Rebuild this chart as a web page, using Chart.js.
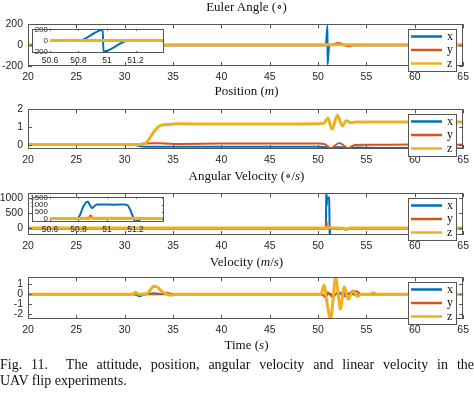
<!DOCTYPE html>
<html>
<head>
<meta charset="utf-8">
<script src="https://cdn.jsdelivr.net/npm/chart.js@4.4.1/dist/chart.umd.min.js"></script>
<style>
  html, body { margin: 0; padding: 0; background: #fff; }
  #fig { position: relative; width: 474px; height: 395px; overflow: hidden; font-family: 'Liberation Serif', 'DejaVu Serif', serif; color: #111; }
  #fig canvas { position: absolute; }
  .ttl { position: absolute; left: 28px; width: 437px; text-align: center; font-size: 13px; line-height: 14px; white-space: nowrap; z-index: 5; }
  .cap { position: absolute; left: 0; width: 474px; font-size: 14px; line-height: 16px; white-space: nowrap; z-index: 5; }
</style>
</head>
<body>
<div id="fig">
  <div class="ttl" style="top:0px;">Euler Angle (∘)</div>
  <div class="ttl" style="top:84px;">Position (<i>m</i>)</div>
  <div class="ttl" style="top:169px;">Angular Velocity (∘/<i>s</i>)</div>
  <div class="ttl" style="top:255px;">Velocity (<i>m</i>/<i>s</i>)</div>
  <div class="ttl" style="top:338px;">Time (<i>s</i>)</div>
  <div class="cap" style="top:357px; text-align:justify; text-align-last:justify;">Fig. 11.&nbsp;&nbsp;The attitude, position, angular velocity and linear velocity in the</div>
  <div class="cap" style="top:373px;">UAV flip experiments.</div>
</div>
<script>
const BLUE = '#0072BD', RED = '#D95319', YELLOW = '#EDB120';

// ── ticks ──
const timeTicks = [20, 25, 30, 35, 40, 45, 50, 55, 60, 65];
const zoomTicks = [50.6, 50.8, 51, 51.2];
const eulerTicks = [-200, 0, 200];
const posTicks = [0, 1, 2];
const angTicks = [0, 500, 1000];
const angZoomTicks = [0, 500, 1000, 1500];
const velTicks = [-2, -1, 0, 1];

// ── Euler angle (deg) ──
const eulerXT = [20, 31, 33, 50.8, 50.97, 50.975, 51.15, 51.5, 53, 65];
const eulerX  = [0, 0, 0, 0, 188, -188, 0, 2, 0, 0];
const eulerYT = [20, 51.2, 51.6, 52.1, 52.6, 53.1, 53.6, 65];
const eulerY  = [0, 0, 10, 20, 8, -12, 0, 0];
const eulerZT = [20, 50.9, 51.0, 51.1, 65];
const eulerZ  = [3, 3, 6, 3, 3];

// ── Position (m) ──
const posXT = [20, 31, 31.5, 32.5, 34, 40, 50, 50.8, 51.3, 51.8, 52.5, 53.1, 53.6, 55, 60, 65];
const posX  = [0.02, 0.02, -0.03, -0.08, -0.07, -0.07, -0.08, -0.1, -0.2, -0.1, -0.1, -0.16, -0.11, -0.13, -0.15, -0.17];
const posYT = [20, 31, 32, 33, 34, 36, 40, 50, 50.7, 51.3, 52.2, 53.1, 53.8, 55, 60, 65];
const posY  = [0.03, 0.03, 0.1, 0.12, 0.11, 0.08, 0.1, 0.1, 0.06, -0.15, 0.13, -0.14, 0.02, 0.03, 0.05, 0.04];
const posZT = [20, 31.7, 32.2, 32.6, 33, 33.4, 33.8, 34.5, 35.5, 40, 45, 50, 50.6, 51.0, 51.45, 52.0, 52.5, 52.9, 53.4, 54, 55, 60, 65];
const posZ  = [0.05, 0.05, 0.15, 0.4, 0.75, 1.0, 1.12, 1.16, 1.2, 1.18, 1.18, 1.2, 1.22, 1.52, 0.9, 1.67, 1.08, 1.36, 1.25, 1.3, 1.3, 1.3, 1.3];

// ── Angular velocity (deg/s) ──
const angXT = [20, 50.79, 50.81, 50.83, 50.85, 50.865, 50.88, 50.895, 50.91, 50.93, 50.97, 51.05, 51.12, 51.145, 51.165, 51.185, 51.2, 51.22, 51.25, 52.4, 52.9, 53.4, 65];
const angX  = [0, 0, 250, 800, 1150, 1230, 1000, 760, 900, 1030, 1040, 1020, 1040, 980, 600, 50, -230, -150, 0, 0, -40, 0, 0];
const angYT = [20, 50.87, 50.885, 50.9, 52.3, 52.9, 53.5, 65];
const angY  = [0, 0, 230, 0, 0, -30, 0, 0];
const angZT = [20, 50.8, 50.88, 50.95, 51.15, 51.25, 52.4, 52.9, 53.4, 65];
const angZ  = [15, 15, 40, 20, 30, 15, 15, -20, 15, 15];

// ── Velocity (m/s) ──
const velXT = [20, 31, 31.5, 32, 33, 34, 35, 50.4, 50.7, 51.1, 51.6, 52.2, 52.8, 53.3, 53.8, 54.5, 65];
const velX  = [0, 0, -0.2, -0.05, 0.1, 0, 0, 0, -0.25, 0.05, -0.1, 0.15, 0, 0.1, -0.05, 0, 0];
const velYT = [20, 33.5, 34.3, 35, 50.4, 50.7, 51.0, 51.5, 52.0, 52.8, 53.4, 54.0, 54.4, 65];
const velY  = [0, 0, 0.15, 0, 0, -0.25, 0.2, -0.3, 0.15, -0.2, 0.2, 0.3, 0, 0];
const velZT = [20, 30.8, 31.1, 31.4, 32.3, 32.7, 33.0, 33.4, 33.8, 34.3, 34.8, 35.3, 50.3, 50.6, 50.95, 51.3, 51.55, 51.8, 52.05, 52.3, 52.7, 53.1, 53.6, 54.05, 54.5, 55.3, 55.7, 56.1, 65];
const velZ  = [0, 0, 0.2, 0, 0.05, 0.5, 0.8, 0.7, 0.3, 0, -0.1, 0, 0, 0.9, -1.0, -2.6, -0.5, 1.75, 0.3, -1.5, 0.75, -0.5, 0.35, -0.2, 0, 0, 0.15, 0, 0];

const TICK_COLOR = '#262626';
const FRAME_COLOR = '#555';
const INSET_LABEL_W = 22;   // room for inset y labels
const INSET_BOX_PAD = 4;    // white box starts this far into the inset canvas

// white box + border + inward tick marks (MATLAB style)
const framePlugin = {
  id: 'frame',
  beforeDraw(chart, args, o) {
    if (!o.inset) return;
    const a = chart.chartArea, ctx = chart.ctx;
    ctx.save();
    ctx.fillStyle = '#fff';
    ctx.fillRect(INSET_BOX_PAD, a.top, a.right - INSET_BOX_PAD, a.bottom - a.top);
    ctx.restore();
  },
  afterDatasetsDraw(chart, args, o) {
    const { ctx, chartArea: a, scales: { x, y } } = chart;
    const left = o.inset ? INSET_BOX_PAD : a.left;
    const L = o.len || 4;
    ctx.save();
    ctx.strokeStyle = FRAME_COLOR;
    ctx.lineWidth = 1;
    ctx.beginPath();
    x.ticks.forEach((t) => {
      const p = Math.round(x.getPixelForValue(t.value)) + 0.5;
      ctx.moveTo(p, a.bottom); ctx.lineTo(p, a.bottom - L);
      ctx.moveTo(p, a.top); ctx.lineTo(p, a.top + L);
    });
    y.ticks.forEach((t) => {
      const p = Math.round(y.getPixelForValue(t.value)) + 0.5;
      if (!o.inset) { ctx.moveTo(a.left, p); ctx.lineTo(a.left + L, p); }
      ctx.moveTo(a.right, p); ctx.lineTo(a.right - L, p);
    });
    ctx.stroke();
    ctx.strokeRect(Math.round(left) + 0.5, Math.round(a.top) + 0.5, Math.round(a.right - left) - 1, Math.round(a.bottom - a.top) - 1);
    ctx.restore();
  },
};

// legend box drawn inside the plot, top right
const legendPlugin = {
  id: 'boxLegend',
  afterDraw(chart, args, o) {
    if (!o.show) return;
    const { ctx, chartArea: a } = chart;
    const w = 48, h = 42;
    const x0 = Math.round(a.right) - 7 - w, y0 = Math.round(a.top) + 5;
    ctx.save();
    ctx.fillStyle = '#fff';
    ctx.fillRect(x0, y0, w, h);
    ctx.strokeStyle = FRAME_COLOR;
    ctx.lineWidth = 1;
    ctx.strokeRect(x0 + 0.5, y0 + 0.5, w, h);
    ctx.font = "12px 'Liberation Serif', 'DejaVu Serif', serif";
    ctx.textBaseline = 'middle';
    ctx.textAlign = 'left';
    chart.data.datasets.forEach((d, i) => {
      const yy = y0 + 7.5 + i * 13.5;
      ctx.strokeStyle = d.borderColor;
      ctx.lineWidth = 2.5;
      ctx.beginPath(); ctx.moveTo(x0 + 3, yy); ctx.lineTo(x0 + 34, yy); ctx.stroke();
      ctx.fillStyle = '#111';
      ctx.fillText(d.label, x0 + 39, yy);
    });
    ctx.restore();
  },
};

function series(label, color, t, v, width, order) {
  return {
    label,
    data: t.map((x, i) => ({ x, y: v[i] })),
    borderColor: color,
    backgroundColor: color,
    borderWidth: width,
    pointRadius: 0,
    cubicInterpolationMode: 'monotone',
    clip: 0,
    order,
  };
}

function makeCanvas(left, top, width, height) {
  const c = document.createElement('canvas');
  c.width = width; c.height = height;
  c.style.left = left + 'px'; c.style.top = top + 'px';
  c.style.width = width + 'px'; c.style.height = height + 'px';
  document.getElementById('fig').appendChild(c);
  return c;
}

function axis(min, max, ticks, fontSize, padding, fit) {
  return {
    type: 'linear',
    min, max,
    grid: { display: false, drawTicks: false },
    border: { display: false },
    afterBuildTicks: (s) => { s.ticks = ticks.map((v) => ({ value: v })); },
    afterFit: fit,
    ticks: {
      color: TICK_COLOR,
      padding,
      autoSkip: false,
      maxRotation: 0,
      callback: (v) => String(Math.round(v * 10) / 10),
      font: { family: "'Liberation Sans', Arial, sans-serif", size: fontSize },
    },
  };
}

// main panel: plot area spans x 28..465, y plotTop..plotBottom
function panel(plotTop, plotBottom, datasets, yMin, yMax, yTicks) {
  const canvas = makeCanvas(0, plotTop - 4, 474, plotBottom - plotTop + 24);
  return new Chart(canvas, {
    type: 'line',
    data: { datasets },
    options: {
      responsive: false,
      animation: false,
      events: [],
      layout: { padding: { top: 4, right: 9, left: 0, bottom: 0 } },
      scales: {
        x: axis(20, 65, timeTicks, 10.5, 5, (s) => { s.height = 20; }),
        y: axis(yMin, yMax, yTicks, 10.5, 5, (s) => { s.width = 28; }),
      },
      plugins: {
        legend: { display: false },
        tooltip: { enabled: false },
        frame: { len: 4 },
        boxLegend: { show: true },
      },
    },
    plugins: [framePlugin, legendPlugin],
  });
}

// zoomed inset: outer white box x 32..164, data area x 50..164
function inset(boxTop, boxBottom, datasets, yMin, yMax, yTicks) {
  const left = 50 - INSET_LABEL_W;
  const canvas = makeCanvas(left, boxTop, 164 - left, boxBottom - boxTop + 13);
  return new Chart(canvas, {
    type: 'line',
    data: { datasets },
    options: {
      responsive: false,
      animation: false,
      events: [],
      layout: { padding: 0 },
      scales: {
        x: axis(50.6, 51.4, zoomTicks, 8.5, 3, (s) => { s.height = 13; }),
        y: axis(yMin, yMax, yTicks, 8, 2, (s) => { s.width = INSET_LABEL_W; }),
      },
      plugins: {
        legend: { display: false },
        tooltip: { enabled: false },
        frame: { len: 2, inset: true },
        boxLegend: { show: false },
      },
    },
    plugins: [framePlugin, legendPlugin],
  });
}

function trio(xt, x, yt, y, zt, z) {
  return [
    series('x', BLUE, xt, x, 2, 3),
    series('y', RED, yt, y, 2, 2),
    series('z', YELLOW, zt, z, 3, 1),
  ];
}

panel(17, 66, trio(eulerXT, eulerX, eulerYT, eulerY, eulerZT, eulerZ), -200, 200, eulerTicks);
inset(22, 53, trio(eulerXT, eulerX, eulerYT, eulerY, eulerZT, eulerZ), -215, 210, eulerTicks);

panel(102, 149, trio(posXT, posX, posYT, posY, posZT, posZ), -0.2, 2, posTicks);

panel(186, 235, trio(angXT, angX, angYT, angY, angZT, angZ), -220, 1170, angTicks);
inset(190, 222, trio(angXT, angX, angYT, angY, angZT, angZ), -250, 1600, angZoomTicks);

panel(270, 319, trio(velXT, velX, velYT, velY, velZT, velZ), -2.5, 1.7, velTicks);
</script>
</body>
</html>
